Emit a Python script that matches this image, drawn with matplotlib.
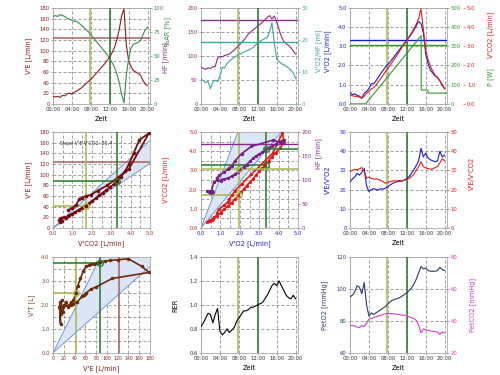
import matplotlib
matplotlib.use("Agg")
import matplotlib.pyplot as plt
from matplotlib.ticker import FormatStrFormatter

# --- Time axis [min] and breath-averaged series ---
t_min = [0.0, 0.5, 1.0, 1.5, 2.0, 2.5, 3.0, 3.5, 4.0, 4.5, 5.0, 5.5, 6.0, 6.5, 7.0, 7.5,
         8.0, 8.5, 9.0, 9.5, 10.0, 10.5, 11.0, 11.5, 12.0, 12.5, 13.0, 13.5, 14.0, 14.5,
         15.0, 15.5, 16.0, 16.5, 17.0, 17.5, 18.0, 18.5, 19.0, 19.5, 20.0]
ve = [14, 13, 14, 12, 16, 15, 19, 20, 18, 22, 24, 27, 30, 34, 38, 42, 46, 51, 56, 61, 66,
      71, 76, 82, 88, 96, 106, 120, 140, 165, 178, 110, 80, 70, 62, 60, 57, 54, 44, 37, 34]
ar = [91, 92, 91, 93, 92, 91, 89, 88, 87, 86, 86, 84, 82, 80, 77, 75, 72, 69, 66, 63, 60,
      57, 54, 51, 47, 43, 38, 31, 22, 10, 1, 30, 48, 58, 62, 63, 64, 66, 72, 77, 80]
hf = [76, 74, 72, 75, 74, 77, 78, 95, 99, 98, 101, 102, 104, 108, 112, 117, 122, 127, 132,
      139, 145, 150, 154, 158, 162, 166, 170, 175, 180, 184, 177, 183, 170, 155, 140, 130,
      125, 122, 117, 110, 104]
o2_pulse = [7.8, 7.2, 6.7, 6.9, 4.7, 6.8, 7.4, 7.0, 8.8, 11.4, 11.2, 12.6, 13.4, 14.0, 14.5,
            15.0, 15.3, 15.7, 16.1, 16.5, 16.8, 17.2, 17.6, 18.4, 19.0, 19.6, 20.0, 20.4,
            20.8, 22.5, 25.3, 19.0, 14.0, 13.2, 12.6, 12.2, 11.8, 11.2, 10.5, 9.6, 8.0]
vo2 = [0.60, 0.48, 0.52, 0.45, 0.40, 0.30, 0.55, 0.65, 0.80, 1.05, 1.05, 1.20, 1.40, 1.58,
       1.75, 1.92, 2.05, 2.20, 2.35, 2.52, 2.68, 2.84, 3.00, 3.17, 3.32, 3.48, 3.65, 3.85,
       4.05, 4.28, 4.20, 3.70, 2.60, 2.10, 1.75, 1.60, 1.45, 1.38, 1.20, 0.95, 0.80]
vco2 = [0.45, 0.42, 0.40, 0.38, 0.35, 0.30, 0.40, 0.55, 0.65, 0.78, 0.85, 0.98, 1.15, 1.32,
        1.50, 1.68, 1.85, 2.02, 2.20, 2.38, 2.56, 2.75, 2.95, 3.12, 3.30, 3.50, 3.70, 3.92,
        4.15, 4.45, 4.95, 3.90, 2.80, 2.30, 1.95, 1.70, 1.50, 1.35, 1.20, 1.00, 0.78]
vt = [1.8, 2.1, 1.2, 1.9, 2.2, 1.6, 1.7, 2.0, 1.9, 2.0, 2.1, 1.9, 2.0, 2.1, 2.2, 2.5, 2.8,
      3.1, 3.4, 3.6, 3.65, 3.7, 3.72, 3.75, 3.8, 3.82, 3.85, 3.88, 3.92, 3.6, 3.35, 3.1,
      2.75, 2.65, 2.5, 2.45, 2.4, 2.35, 2.1, 2.05, 2.0]
eq_o2 = [24.0, 25.5, 26.5, 28.5, 27.5, 29.0, 31.0, 22.0, 19.0, 20.0, 20.5, 20.0, 19.8, 20.5,
         20.2, 20.8, 21.5, 22.5, 23.2, 23.8, 24.1, 24.3, 24.5, 25.0, 25.8, 26.8, 28.5, 30.3,
         32.5, 35.0, 41.5, 37.0, 39.0, 36.5, 35.5, 35.0, 34.5, 35.0, 40.0, 37.0, 38.0]
eq_co2 = [29.5, 30.0, 30.5, 30.3, 30.8, 31.5, 29.5, 26.0, 26.5, 25.8, 25.5, 25.6, 25.2, 24.8,
          24.0, 23.3, 23.8, 24.2, 24.5, 24.6, 24.5, 24.7, 24.6, 24.9, 25.3, 25.8, 26.8, 28.0,
          30.0, 32.0, 34.5, 32.0, 31.2, 31.0, 30.6, 30.8, 31.5, 32.0, 34.0, 36.0, 35.0]
rer = [0.82, 0.85, 0.89, 0.93, 0.92, 0.85, 0.92, 0.97, 0.78, 0.75, 0.77, 0.80, 0.77, 0.79,
       0.81, 0.86, 0.89, 0.92, 0.95, 0.95, 0.96, 0.98, 0.98, 0.99, 1.00, 1.01, 1.02, 1.05,
       1.08, 1.12, 1.16, 1.18, 1.16, 1.20, 1.16, 1.12, 1.08, 1.06, 1.05, 1.08, 1.05]
pet_o2 = [95, 96, 98, 102, 101, 97, 104, 90, 83, 85, 84, 85, 86, 87, 88, 89, 90.5, 92, 93,
          93.5, 94, 94.5, 95.5, 96.5, 97.5, 99, 100.5, 103, 106, 110, 114, 112.5, 113, 111.5,
          111, 111, 111, 111.5, 113.5, 112, 111.5]
pet_co2 = [37.5, 37.0, 36.8, 36.2, 35.8, 37.0, 36.5, 38.5, 41.0, 41.5, 42.0, 42.5, 43.0, 43.5,
           44.0, 44.5, 44.5, 44.6, 44.5, 44.3, 44.0, 43.8, 43.6, 43.5, 43.3, 42.5, 42.0, 41.5,
           40.3, 37.5, 32.5, 35.0, 34.5, 34.0, 33.8, 33.5, 33.2, 33.0, 31.5, 33.0, 32.5]

# --- Load protocol (step ramp) ---
p_time = [0.0, 3.3, 15.05, 15.05, 16.5, 16.5, 20.5]
p_watt = [0, 0, 355, 72, 72, 56, 56]

# --- Thresholds and reference levels ---
vt1_time, vt2_time = 7.8, 12.0
vt1_vco2, vt2_vco2 = 1.72, 3.3
vt1_ve, vt2_ve = 42, 88
vt1_vo2, vt2_vo2 = 1.95, 3.35
vt1_vco2_b, vt2_vco2_b = 1.7, 3.3
vt1_hf, vt2_hf = 122, 164
vt1_vt, vt2_vt = 2.5, 3.75
ve_ref = 123
hf_ref = 175
o2p_ref = 19.2
vo2_ref = 3.33
p_ref = 307
slope_text = "Slope V'E-V'CO2: 25,4"

# wedge lines (end points of the reference slopes)
w4_hi, w4_lo = 164, 121          # V'E at V'CO2 = 5.0
w5_hi, w5_lo = 1.9, 4.14         # V'O2 where V'CO2 reaches 5.0
w7_hi, w7_lo = 88, 3.6           # V'E where VT = 4.0 / VT at V'E = 180

time_ticks = [0, 4, 8, 12, 16, 20]
time_labels = ["00:00", "04:00", "08:00", "12:00", "16:00", "20:00"]

# --- Colours ---
dkred = "#8B1C1C"
green_ar = "#3C8D4F"
purple = "#8B2B8B"
teal = "#3AA6A0"
blue = "#1A1AC8"
red = "#E41A1A"
pgreen = "#2E9B2E"
olive = "#A5B84C"
dkgreen = "#237A23"
rosy = "#A86060"
navy = "#2B3A6B"
magenta = "#D63CD6"
fill_blue = "#DCE5F6"
line_blue = "#5B8BD8"
dot_maroon = "#7A0E0E"
brown = "#6E2A0C"

TICK_FS = 3.8
LAB_FS = 4.8

fig = plt.figure(figsize=(5, 3.75), dpi=100)
col_left = [0.106, 0.402, 0.700]
row_bottom = [0.723, 0.392, 0.059]
W, H = 0.194, 0.256


def make_ax(row, col):
    ax = fig.add_axes([col_left[col], row_bottom[row], W, H])
    for s in ax.spines.values():
        s.set_color("#a8a8a8")
        s.set_linewidth(0.6)
    ax.tick_params(labelsize=TICK_FS, length=1.5, width=0.4, pad=1,
                   color="#777777", labelcolor="#333333")
    ax.tick_params(which="minor", length=0)
    ax.grid(True, which="both", color="#8c8c8c", linestyle=(0, (3.5, 2.5)), linewidth=0.6)
    ax.set_axisbelow(True)
    return ax


def twin(ax, color):
    tw = ax.twinx()
    for s in tw.spines.values():
        s.set_visible(False)
    tw.tick_params(labelsize=TICK_FS, length=1.5, width=0.4, pad=1, colors=color)
    return tw


def ylab(ax, text, color, x, y=0.5):
    ax.set_ylabel(text, fontsize=LAB_FS, color=color)
    ax.yaxis.set_label_coords(x, y)


def time_axis(ax):
    ax.set_xlim(0, 20.5)
    ax.set_xticks(time_ticks)
    ax.set_xticklabels(time_labels)
    ax.set_xlabel("Zeit", fontsize=LAB_FS, labelpad=2.5)
    ax.axvline(vt1_time, color=olive, lw=1.1, zorder=3)
    ax.axvline(vt2_time, color=dkgreen, lw=1.1, zorder=3)


def circle(ax, x, y, color):
    ax.plot([x], [y], "o", mfc="none", mec=color, ms=4, mew=1.0, zorder=6)


# ------------------------------------------------------------------------------
# Row 1, panel 1: V'E and breathing reserve over time
ax1 = make_ax(0, 0)
ax1.axhline(ve_ref, color=rosy, lw=1.1, zorder=3)
ax1.plot(t_min, ve, color=dkred, lw=0.8, zorder=4)
ax1.set_ylim(0, 180)
ax1.set_yticks(range(0, 181, 20))
ax1.tick_params(axis="y", labelcolor=dkred)
ylab(ax1, "V'E [L/min]", dkred, -0.22)
time_axis(ax1)
ax1b = twin(ax1, green_ar)
ax1b.plot(t_min, ar, color=green_ar, lw=0.8)
ax1b.set_ylim(0, 100)
ax1b.set_yticks([0, 25, 50, 75, 100])
ylab(ax1b, "%AR [%]", green_ar, 1.15, 0.75)

# Row 1, panel 2: heart rate and O2 pulse
ax2 = make_ax(0, 1)
ax2.axhline(hf_ref, color=purple, lw=1.0, zorder=3)
ax2.plot(t_min, hf, color=purple, lw=0.8, zorder=4)
ax2.set_ylim(0, 200)
ax2.set_yticks(range(0, 201, 50))
ax2.tick_params(axis="y", labelcolor=purple)
ylab(ax2, "HF [/min]", purple, -0.33, 0.48)
time_axis(ax2)
ax2b = twin(ax2, teal)
ax2b.axhline(o2p_ref, color=teal, lw=1.0)
ax2b.plot(t_min, o2_pulse, color=teal, lw=0.8)
ax2b.set_ylim(0, 30)
ax2b.set_yticks([0, 10, 20, 30])
ylab(ax2b, "V'O2/HF [ml]", teal, 1.18, 0.55)

# Row 1, panel 3: V'O2, V'CO2 and load
ax3 = make_ax(0, 2)
ax3.axhline(vo2_ref, color=blue, lw=1.0, zorder=3)
ax3.plot(t_min, vo2, color=blue, lw=0.8, zorder=4)
ax3.set_ylim(0, 5)
ax3.set_yticks([0, 1, 2, 3, 4, 5])
ax3.yaxis.set_major_formatter(FormatStrFormatter("%.1f"))
ax3.tick_params(axis="y", labelcolor=blue)
ylab(ax3, "V'O2 [L/min]", blue, -0.20, 0.55)
time_axis(ax3)
ax3p = twin(ax3, pgreen)
ax3p.axhline(p_ref, color=pgreen, lw=1.0)
ax3p.plot(p_time, p_watt, color=pgreen, lw=0.8)
ax3p.set_ylim(0, 500)
ax3p.set_yticks(range(0, 501, 100))
ylab(ax3p, "P [W]", pgreen, 1.42, 0.28)
ax3c = twin(ax3, red)
ax3c.spines["right"].set_position(("axes", 1.17))
ax3c.plot(t_min, vco2, color=red, lw=0.8)
ax3c.set_ylim(0, 5)
ax3c.set_yticks([0, 1, 2, 3, 4, 5])
ax3c.yaxis.set_major_formatter(FormatStrFormatter("%.1f"))
ylab(ax3c, "V'CO2 [L/min]", red, 1.42, 0.72)

# ------------------------------------------------------------------------------
# Row 2, panel 4: V'E vs V'CO2
ax4 = make_ax(1, 0)
ax4.fill([0, 5, 5], [0, w4_lo, w4_hi], color=fill_blue, lw=0, zorder=1)
ax4.plot([0, 5], [0, w4_hi], color=line_blue, lw=0.6, zorder=2)
ax4.plot([0, 5], [0, w4_lo], color=line_blue, lw=0.6, zorder=2)
ax4.axhline(ve_ref, color=rosy, lw=1.1, zorder=3)
ax4.axvline(vt1_vco2, color=olive, lw=1.1, zorder=3)
ax4.plot([0, vt1_vco2], [vt1_ve, vt1_ve], color=olive, lw=1.1, zorder=3)
ax4.axvline(vt2_vco2, color=dkgreen, lw=1.1, zorder=3)
ax4.plot([0, vt2_vco2], [vt2_ve, vt2_ve], color=dkgreen, lw=1.1, zorder=3)
ax4.plot(vco2, ve, color=dot_maroon, lw=1.3, marker="o", ms=1.6, zorder=5)
circle(ax4, vt1_vco2, vt1_ve, olive)
circle(ax4, vt2_vco2, vt2_ve, dkgreen)
ax4.text(0.07, 0.88, slope_text, transform=ax4.transAxes, fontsize=3.4, color="#333333",
         va="center", zorder=7)
ax4.set_xlim(0, 5)
ax4.set_ylim(0, 180)
ax4.set_xticks([0, 1, 2, 3, 4, 5])
ax4.set_xticks([0.5, 1.5, 2.5, 3.5, 4.5], minor=True)
ax4.set_yticks(range(0, 181, 20))
ax4.xaxis.set_major_formatter(FormatStrFormatter("%.1f"))
ax4.tick_params(axis="x", labelcolor="#B03030")
ax4.tick_params(axis="y", labelcolor=dkred)
ax4.set_xlabel("V'CO2 [L/min]", fontsize=LAB_FS, color=dkred, labelpad=2.5)
ylab(ax4, "V'E [L/min]", dkred, -0.22)

# Row 2, panel 5: V-slope (V'CO2 vs V'O2) and HF vs V'O2
ax5 = make_ax(1, 1)
ax5.fill([0, w5_lo, w5_hi], [0, 5, 5], color=fill_blue, lw=0, zorder=1)
ax5.plot([0, w5_hi], [0, 5], color=line_blue, lw=0.6, zorder=2)
ax5.plot([0, w5_lo], [0, 5], color=line_blue, lw=0.6, zorder=2)
ax5.axvline(vt1_vo2, color=olive, lw=1.1, zorder=3)
ax5.axvline(vt2_vo2, color=dkgreen, lw=1.1, zorder=3)
ax5.plot([0, vt1_vo2], [vt1_vco2_b, vt1_vco2_b], color=olive, lw=1.1, zorder=3)
ax5.plot([0, vt2_vo2], [vt2_vco2_b, vt2_vco2_b], color=dkgreen, lw=1.1, zorder=3)
ax5.plot(vo2, vco2, color=red, lw=1.2, marker="o", ms=1.4, zorder=5)
circle(ax5, vt1_vo2, vt1_vco2_b, olive)
circle(ax5, vt2_vo2, vt2_vco2_b, dkgreen)
ax5.set_xlim(0, 5)
ax5.set_ylim(0, 5)
ax5.set_xticks([0, 1, 2, 3, 4, 5])
ax5.set_xticks([0.5, 1.5, 2.5, 3.5, 4.5], minor=True)
ax5.set_yticks([0, 1, 2, 3, 4, 5])
ax5.set_yticks([0.5, 1.5, 2.5, 3.5, 4.5], minor=True)
ax5.xaxis.set_major_formatter(FormatStrFormatter("%.1f"))
ax5.yaxis.set_major_formatter(FormatStrFormatter("%.1f"))
ax5.tick_params(axis="x", labelcolor=blue)
ax5.tick_params(axis="y", labelcolor=red)
ax5.set_xlabel("V'O2 [L/min]", fontsize=LAB_FS, color=blue, labelpad=2.5)
ylab(ax5, "V'CO2 [L/min]", red, -0.33)
ax5b = twin(ax5, purple)
ax5b.axhline(hf_ref, color=purple, lw=1.0)
ax5b.axhline(vt1_hf, color=olive, lw=1.1)
ax5b.plot([vt2_vo2, 5], [vt2_hf, vt2_hf], color=dkgreen, lw=1.1)
ax5b.plot(vo2, hf, color="#7A1F8A", lw=1.2, marker="o", ms=1.4)
circle(ax5b, vt1_vo2, vt1_hf, olive)
circle(ax5b, vt2_vo2, vt2_hf, dkgreen)
ax5b.set_xlim(0, 5)
ax5b.set_ylim(0, 200)
ax5b.set_yticks(range(0, 201, 50))
ylab(ax5b, "HF [/min]", purple, 1.18, 0.78)

# Row 2, panel 6: ventilatory equivalents
ax6 = make_ax(1, 2)
ax6.plot(t_min, eq_o2, color=blue, lw=0.8, zorder=4)
ax6.set_ylim(0, 50)
ax6.set_yticks(range(0, 51, 10))
ax6.tick_params(axis="y", labelcolor=blue)
ylab(ax6, "V'E/V'O2", blue, -0.20, 0.5)
time_axis(ax6)
ax6b = twin(ax6, red)
ax6b.plot(t_min, eq_co2, color=red, lw=0.8)
ax6b.set_ylim(0, 50)
ax6b.set_yticks(range(0, 51, 10))
ylab(ax6b, "V'E/V'CO2", red, 1.23, 0.57)

# ------------------------------------------------------------------------------
# Row 3, panel 7: tidal volume vs V'E
ax7 = make_ax(2, 0)
ax7.fill([0, 180, 180, w7_hi], [0, w7_lo, 4, 4], color=fill_blue, lw=0, zorder=1)
ax7.plot([0, w7_hi], [0, 4], color=line_blue, lw=0.6, zorder=2)
ax7.plot([0, 180], [0, w7_lo], color=line_blue, lw=0.6, zorder=2)
ax7.axvline(ve_ref, color=rosy, lw=1.1, zorder=3)
ax7.axvline(vt1_ve, color=olive, lw=1.1, zorder=3)
ax7.plot([0, vt1_ve], [vt1_vt, vt1_vt], color=olive, lw=1.1, zorder=3)
ax7.axvline(vt2_ve, color=dkgreen, lw=1.1, zorder=3)
ax7.plot([0, vt2_ve], [vt2_vt, vt2_vt], color=dkgreen, lw=1.1, zorder=3)
ax7.plot(ve, vt, color=brown, lw=1.2, marker="o", ms=1.5, zorder=5)
circle(ax7, vt1_ve, vt1_vt, olive)
circle(ax7, vt2_ve, vt2_vt, dkgreen)
ax7.set_xlim(0, 180)
ax7.set_ylim(0, 4)
ax7.set_xticks(range(0, 181, 20))
ax7.set_yticks([0, 1, 2, 3, 4])
ax7.set_yticks([0.5, 1.5, 2.5, 3.5], minor=True)
ax7.yaxis.set_major_formatter(FormatStrFormatter("%.1f"))
ax7.tick_params(axis="x", labelcolor=dkred, labelsize=3.3)
ax7.tick_params(axis="y", labelcolor="#7B4B2B")
ax7.set_xlabel("V'E [L/min]", fontsize=LAB_FS, color=dkred, labelpad=2.5)
ylab(ax7, "V'T [L]", "#7B4B2B", -0.19)

# Row 3, panel 8: RER
ax8 = make_ax(2, 1)
ax8.plot(t_min, rer, color="black", lw=0.8, zorder=4)
ax8.set_ylim(0.6, 1.4)
ax8.set_yticks([0.6, 0.8, 1.0, 1.2, 1.4])
ax8.yaxis.set_major_formatter(FormatStrFormatter("%.1f"))
ylab(ax8, "RER", "black", -0.23)
time_axis(ax8)

# Row 3, panel 9: end-tidal gases
ax9 = make_ax(2, 2)
ax9.plot(t_min, pet_o2, color=navy, lw=0.8, zorder=4)
ax9.set_ylim(60, 120)
ax9.set_yticks([60, 80, 100, 120])
ax9.tick_params(axis="y", labelcolor=navy)
ylab(ax9, "PetO2 [mmHg]", navy, -0.23)
time_axis(ax9)
ax9b = twin(ax9, magenta)
ax9b.plot(t_min, pet_co2, color=magenta, lw=0.8)
ax9b.set_ylim(20, 80)
ax9b.set_yticks([20, 40, 60, 80])
ylab(ax9b, "PetCO2 [mmHg]", magenta, 1.23)

fig.savefig("out.png", dpi=100)
